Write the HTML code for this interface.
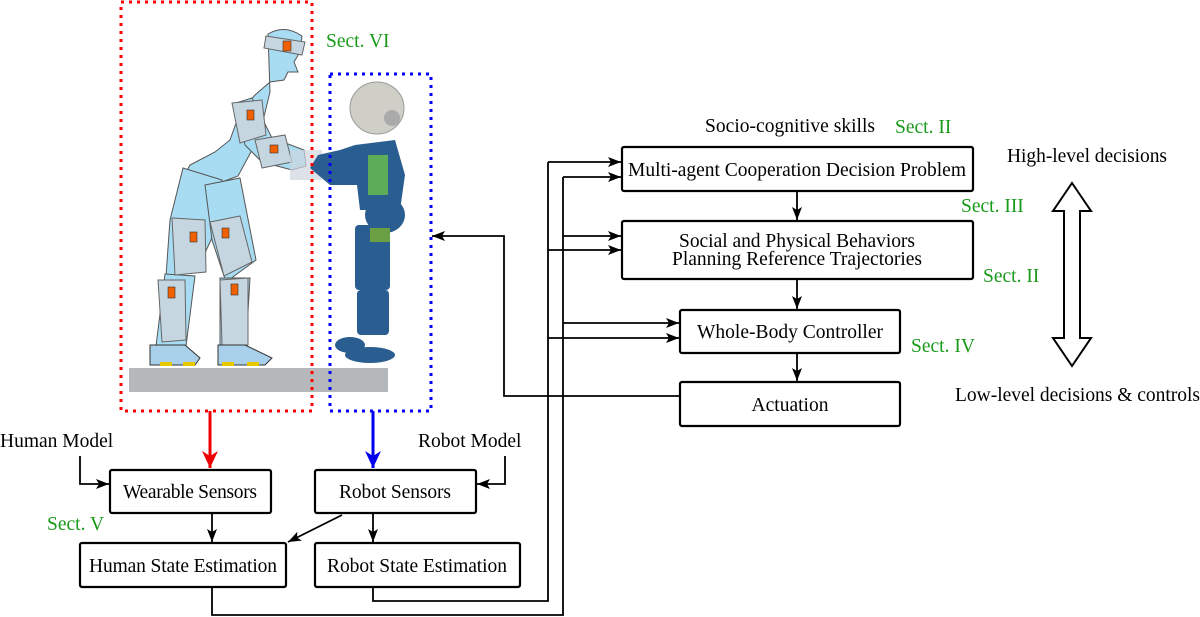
<!DOCTYPE html>
<html><head><meta charset="utf-8"><style>
html,body{margin:0;padding:0;background:#fff;}
svg{display:block}
text{font-family:"Liberation Serif",serif;font-size:19.5px;fill:#000}
.g{fill:#1a9a1a}
</style></head><body>
<svg width="1200" height="617" viewBox="0 0 1200 617" xmlns="http://www.w3.org/2000/svg">
<defs>
<marker id="a" markerWidth="14" markerHeight="12" refX="13" refY="6" orient="auto" markerUnits="userSpaceOnUse"><path d="M0,1 L13,6 L0,11 L3,6 z" fill="#000"/></marker>
<marker id="ar" markerWidth="18" markerHeight="18" refX="17" refY="9" orient="auto" markerUnits="userSpaceOnUse"><path d="M0,1 L17,9 L0,17 L5,9 z" fill="#e00"/></marker>
<marker id="ab" markerWidth="18" markerHeight="18" refX="17" refY="9" orient="auto" markerUnits="userSpaceOnUse"><path d="M0,1 L17,9 L0,17 L5,9 z" fill="#00e"/></marker>
</defs>

<rect x="129" y="368" width="259" height="24" fill="#b4b8bb"/>

<g fill="#a8dcf2" stroke="#555" stroke-width="1">
<path d="M268,34 Q285,24 302,36 L300,52 L294,62 L298,72 L288,72 L284,80 L270,82 L255,95 L240,112 L230,140 L215,152 L190,165 L183,178 L222,182 L238,176 L252,150 L262,125 L270,92 Z"/>
<path d="M236,103 L252,98 L272,138 L304,150 L306,166 L292,170 L262,162 L245,145 Z"/>
<path d="M183,168 L222,180 L218,225 L196,272 L166,276 L170,220 Z"/>
<path d="M205,185 L240,178 L256,260 L226,282 L212,240 Z"/>
<path d="M165,274 L195,276 L186,346 L156,346 Z"/>
<path d="M220,278 L250,278 L246,346 L220,346 Z"/>
</g>
<g fill="#c6d6e0" stroke="#666" stroke-width="1">
<polygon points="266,36 305,42 302,55 264,48"/>
<polygon points="232,103 262,100 266,135 240,143"/>
<polygon points="255,140 285,135 292,162 262,168"/>
<polygon points="172,218 205,220 206,272 175,275"/>
<polygon points="210,222 240,216 252,262 224,276"/>
<polygon points="158,280 185,280 186,340 162,342"/>
<polygon points="220,280 248,278 248,345 222,345"/>
</g>
<g fill="#f06000" stroke="#333" stroke-width="0.6">
<rect x="283" y="41" width="8" height="10"/><rect x="247" y="110" width="7" height="10"/>
<rect x="270" y="145" width="8" height="8"/><rect x="190" y="232" width="7" height="10"/>
<rect x="222" y="228" width="7" height="10"/><rect x="168" y="287" width="7" height="11"/>
<rect x="231" y="284" width="7" height="11"/>
</g>
<g fill="#a8d0ea" stroke="#333" stroke-width="1">
<path d="M150,345 L185,345 L200,358 L195,365 L150,365 Z"/>
<path d="M218,345 L245,345 L272,358 L265,365 L218,365 Z"/>
</g>
<rect x="160" y="362" width="12" height="4" fill="#e8c800"/><rect x="183" y="362" width="12" height="4" fill="#e8c800"/>
<rect x="222" y="362" width="12" height="4" fill="#e8c800"/><rect x="247" y="362" width="12" height="4" fill="#e8c800"/>
<rect x="290" y="150" width="32" height="30" fill="#cfd6e0" opacity="0.7"/>

<ellipse cx="377" cy="108" rx="27" ry="26" fill="#cfcfc8" stroke="#999"/>
<circle cx="392" cy="118" r="8" fill="#aaa"/>
<g fill="#2a5d90">
<path d="M355,145 L395,140 L405,175 L400,210 L360,210 L357,185 L330,185 L310,168 L318,155 L340,150 Z"/>
<ellipse cx="385" cy="215" rx="20" ry="18"/>
<rect x="355" y="225" width="35" height="65" rx="4"/>
<rect x="357" y="290" width="32" height="45" rx="4"/>
<ellipse cx="350" cy="345" rx="15" ry="8"/>
<ellipse cx="370" cy="355" rx="25" ry="8"/>
</g>
<rect x="368" y="155" width="20" height="40" fill="#6ac04a" opacity="0.8"/>
<rect x="370" y="228" width="20" height="14" fill="#7ab030" opacity="0.8"/>

<rect x="121" y="2" width="191" height="409" fill="none" stroke="#f00" stroke-width="3" stroke-dasharray="3,5"/>
<rect x="330" y="74" width="101" height="337" fill="none" stroke="#00f" stroke-width="3" stroke-dasharray="3,5"/>

<text x="326" y="47" class="g">Sect. VI</text>

<line x1="210" y1="411" x2="210" y2="468" stroke="#e00" stroke-width="3" marker-end="url(#ar)"/>
<line x1="373" y1="411" x2="373" y2="468" stroke="#00e" stroke-width="3" marker-end="url(#ab)"/>

<g fill="none" stroke="#000" stroke-width="2.2">
<rect x="110" y="470" width="161" height="43" rx="2"/>
<rect x="315" y="470" width="161" height="43" rx="2"/>
<rect x="80" y="543" width="206" height="44" rx="2"/>
<rect x="315" y="543" width="205" height="44" rx="2"/>
<rect x="622" y="147" width="351" height="44" rx="2"/>
<rect x="622" y="221" width="351" height="58" rx="2"/>
<rect x="680" y="310" width="220" height="43" rx="2"/>
<rect x="680" y="382" width="220" height="44" rx="2"/>
</g>

<g fill="none" stroke="#000" stroke-width="1.8">
<path d="M80,456 V484 H109" marker-end="url(#a)"/>
<path d="M505,456 V484 H477" marker-end="url(#a)"/>
<path d="M212,513 V542" marker-end="url(#a)"/>
<path d="M373,513 V542" marker-end="url(#a)"/>
<path d="M342,515 L288,542" marker-end="url(#a)"/>
<path d="M797,191 V220" marker-end="url(#a)"/>
<path d="M797,279 V309" marker-end="url(#a)"/>
<path d="M797,353 V381" marker-end="url(#a)"/>
<path d="M373,587 V601 H548 V162"/>
<path d="M212,587 V615 H563 V177"/>
<path d="M548,162 H621" marker-end="url(#a)"/>
<path d="M563,177 H621" marker-end="url(#a)"/>
<path d="M563,236 H621" marker-end="url(#a)"/>
<path d="M548,250 H621" marker-end="url(#a)"/>
<path d="M563,323 H679" marker-end="url(#a)"/>
<path d="M548,338 H679" marker-end="url(#a)"/>
<path d="M680,396 H504 V236 H432" marker-end="url(#a)"/>
</g>

<path d="M1072,183 L1091,211 L1080,211 L1080,338 L1091,338 L1072,366 L1053,338 L1064,338 L1064,211 L1053,211 Z" fill="#fff" stroke="#000" stroke-width="2"/>

<text x="0" y="447">Human Model</text>
<text x="418" y="447">Robot Model</text>
<text x="190" y="498" text-anchor="middle" textLength="134">Wearable Sensors</text>
<text x="395" y="498" text-anchor="middle" textLength="112">Robot Sensors</text>
<text x="183" y="572" text-anchor="middle" textLength="188">Human State Estimation</text>
<text x="417" y="572" text-anchor="middle" textLength="180">Robot State Estimation</text>
<text x="47" y="530" class="g">Sect. V</text>
<text x="705" y="132" textLength="170">Socio-cognitive skills</text>
<text x="895" y="133" class="g">Sect. II</text>
<text x="797" y="176" text-anchor="middle" textLength="338">Multi-agent Cooperation Decision Problem</text>
<text x="961" y="212" class="g">Sect. III</text>
<text x="797" y="247" text-anchor="middle" textLength="236">Social and Physical Behaviors</text>
<text x="797" y="265" text-anchor="middle" textLength="250">Planning Reference Trajectories</text>
<text x="983" y="282" class="g">Sect. II</text>
<text x="790" y="338" text-anchor="middle" textLength="186">Whole-Body Controller</text>
<text x="790" y="411" text-anchor="middle">Actuation</text>
<text x="911" y="352" class="g">Sect. IV</text>
<text x="1007" y="162" textLength="160">High-level decisions</text>
<text x="955" y="401" textLength="245">Low-level decisions &amp; controls</text>
</svg>
</body></html>
